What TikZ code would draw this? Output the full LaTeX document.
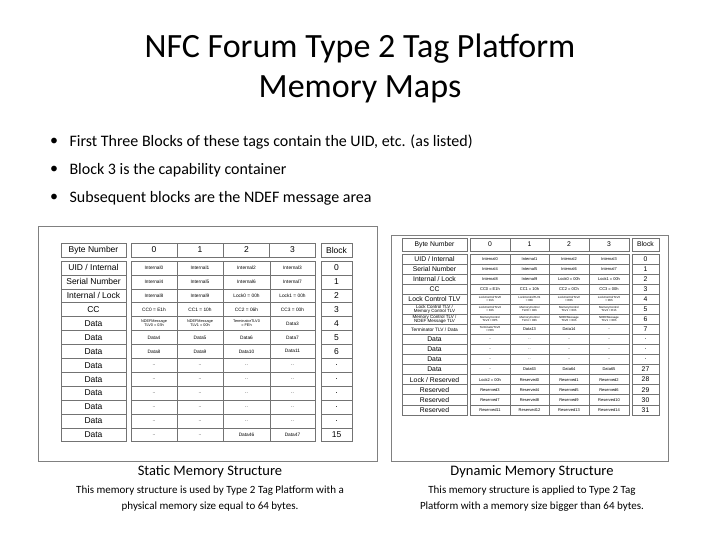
\documentclass[tikz,border=0pt]{standalone}
\usepackage{fontspec}
\setmainfont{Carlito}
\newfontfamily\arialf{Liberation Sans}
\newcommand\twol[3]{{\fontsize{#1}{#1}\selectfont\renewcommand\arraystretch{0.85}\begin{tabular}{@{}c@{}}#2\\#3\end{tabular}}}
\begin{document}
\begin{tikzpicture}[x=1pt,y=-1pt,
  cellbox/.style={draw=black!55,line width=0.5pt,rectangle,inner sep=0pt,align=center,font=\arialf},
  frameb/.style={draw=black!50,line width=0.6pt}]
\useasboundingbox (0,0) rectangle (720,540);
\node[font=\fontsize{34}{40}\selectfont,align=center] (title) at (360,68) {NFC Forum Type 2 Tag Platform\\Memory Maps};
\foreach \t/\yy [count=\k] in {{First Three Blocks of these tags contain the UID, etc. (as listed)}/142,{Block 3 is the capability container}/170,{Subsequent blocks are the NDEF message area}/198}{
  \node[anchor=west,font=\fontsize{16}{18}\selectfont] (b\k) at (66,\yy) {\t};
  \node[font=\fontsize{16}{18}\selectfont] (d\k) at (54,\yy) {\textbullet};
}
\draw[frameb] (38,226) rectangle (377,461);
\draw[frameb] (391,235) rectangle (668,461);
\begin{scope}[every node/.style={cellbox,minimum height=14pt,font=\arialf\fontsize{8.5}{9}\selectfont}]
\node[minimum width=65pt] (lh) at (93.5,250) {Byte Number};
\foreach \v/\cx [count=\k] in {0/154,1/200,2/246.5,3/292.5}{\node[minimum width=46pt] (lh\k) at (\cx,250) {\v};}
\node[minimum width=31pt] (lhb) at (336.5,250) {Block};
\end{scope}
\foreach \lab/\a/\b/\c/\d/\blk [count=\i] in {
 {UID / Internal}/Internal0/Internal1/Internal2/Internal3/0,
 {Serial Number}/Internal4/Internal5/Internal6/Internal7/1,
 {Internal / Lock}/Internal8/Internal9/{Lock0 = 00h}/{Lock1 = 00h}/2,
 CC/{CC0 = E1h}/{CC1 = 10h}/{CC2 = 06h}/{CC3 = 00h}/3,
 Data/{\twol{3.8}{NDEFMessage}{TLV0 = 03h}}/{\twol{3.8}{NDEFMessage}{TLV1 = 00h}}/{\twol{3.8}{TerminatorTLV0}{= FEh}}/Data3/4,
 Data/Data4/Data5/Data6/Data7/5,
 Data/Data8/Data9/Data10/Data11/6,
 Data/../../../../.,
 Data/../../../../.,
 Data/../../../../.,
 Data/../../../../.,
 Data/../../../../.,
 Data/../../Data46/Data47/15}{
 \pgfmathsetmacro\yy{261+(\i-0.5)*13.9}
 \node[cellbox,minimum width=65pt,minimum height=13.9pt,font=\arialf\fontsize{8.5}{9}\selectfont] (ll\i) at (93.5,\yy) {\lab};
 \node[cellbox,minimum width=46pt,minimum height=13.9pt,font=\arialf\fontsize{4.8}{5}\selectfont] (la\i) at (154,\yy) {\a};
 \node[cellbox,minimum width=46pt,minimum height=13.9pt,font=\arialf\fontsize{4.8}{5}\selectfont] (lb\i) at (200,\yy) {\b};
 \node[cellbox,minimum width=47pt,minimum height=13.9pt,font=\arialf\fontsize{4.8}{5}\selectfont] (lc\i) at (246.5,\yy) {\c};
 \node[cellbox,minimum width=45pt,minimum height=13.9pt,font=\arialf\fontsize{4.8}{5}\selectfont] (ld\i) at (292.5,\yy) {\d};
 \node[cellbox,minimum width=31pt,minimum height=13.9pt,font=\arialf\fontsize{8.5}{9}\selectfont] (lk\i) at (336.5,\yy) {\blk};
}
\begin{scope}[every node/.style={cellbox,minimum height=13pt,font=\arialf\fontsize{6.8}{7}\selectfont}]
\node[minimum width=65pt] (rh) at (434.5,244.5) {Byte Number};
\foreach \v/\cx [count=\k] in {0/490,1/529.5,2/569,3/609}{\node[minimum width=39.5pt] (rh\k) at (\cx,244.5) {\v};}
\node[minimum width=27pt] (rhb) at (645.5,244.5) {Block};
\end{scope}
\foreach \lab/\a/\b/\c/\d/\blk [count=\i] in {
 {UID / Internal}/Internal0/Internal1/Internal2/Internal3/0,
 {Serial Number}/Internal4/Internal5/Internal6/Internal7/1,
 {Internal / Lock}/Internal8/Internal9/{Lock0 = 00h}/{Lock1 = 00h}/2,
 CC/{CC0 = E1h}/{CC1 = 10h}/{CC2 = 0Ch}/{CC3 = 00h}/3,
 {Lock Control TLV}/{\twol{2.9}{LockControlTLV0}{= 01h}}/{\twol{2.9}{LockControlTLV1}{= 03h}}/{\twol{2.9}{LockControlTLV2}{= E0h}}/{\twol{2.9}{LockControlTLV3}{= 06h}}/4,
 {\twol{4.5}{Lock Control TLV /}{Memory Control TLV}}/{\twol{2.9}{LockControlTLV4}{= 33h}}/{\twol{2.9}{MemoryControl}{TLV0 = 02h}}/{\twol{2.9}{MemoryControl}{TLV1 = 03h}}/{\twol{2.9}{MemoryControl}{TLV2 = E1h}}/5,
 {\twol{4.5}{Memory Control TLV /}{NDEF Message TLV}}/{\twol{2.9}{MemoryControl}{TLV3 = 0Ph}}/{\twol{2.9}{MemoryControl}{TLV4 = 03h}}/{\twol{2.9}{NDEFMessage}{TLV0 = 03h}}/{\twol{2.9}{NDEFMessage}{TLV1 = 00h}}/6,
 {\fontsize{4.8}{5}\selectfont Terminator TLV / Data}/{\twol{2.9}{TerminatorTLV0}{= FEh}}/Data13/Data14/../7,
 Data/../../../../.,
 Data/../../../../.,
 Data/../../../../.,
 Data/../Data63/Data64/Data65/27,
 {Lock / Reserved}/{Lock2 = 00h}/Reserved0/Reserved1/Reserved2/28,
 Reserved/Reserved3/Reserved4/Reserved5/Reserved6/29,
 Reserved/Reserved7/Reserved8/Reserved9/Reserved10/30,
 Reserved/Reserved11/Reserved12/Reserved13/Reserved14/31}{
 \pgfmathsetmacro\yy{254+(\i-0.5)*10.05}
 \node[cellbox,minimum width=65pt,minimum height=10.05pt,font=\arialf\fontsize{6.8}{7}\selectfont] (rl\i) at (434.5,\yy) {\lab};
 \node[cellbox,minimum width=40pt,minimum height=10.05pt,font=\arialf\fontsize{4}{4.5}\selectfont] (ra\i) at (490,\yy) {\a};
 \node[cellbox,minimum width=39pt,minimum height=10.05pt,font=\arialf\fontsize{4}{4.5}\selectfont] (rb\i) at (529.5,\yy) {\b};
 \node[cellbox,minimum width=40pt,minimum height=10.05pt,font=\arialf\fontsize{4}{4.5}\selectfont] (rc\i) at (569,\yy) {\c};
 \node[cellbox,minimum width=40pt,minimum height=10.05pt,font=\arialf\fontsize{4}{4.5}\selectfont] (rd\i) at (609,\yy) {\d};
 \node[cellbox,minimum width=27pt,minimum height=10.05pt,font=\arialf\fontsize{6.8}{7}\selectfont] (rk\i) at (645.5,\yy) {\blk};
}
\node[font=\fontsize{14.5}{16}\selectfont] (c1) at (210,472) {Static Memory Structure};
\node[font=\fontsize{11}{16}\selectfont,align=center] (c1b) at (210,499) {This memory structure is used by Type 2 Tag Platform with a\\physical memory size equal to 64 bytes.};
\node[font=\fontsize{14.5}{16}\selectfont] (c2) at (532,472) {Dynamic Memory Structure};
\node[font=\fontsize{11}{16}\selectfont,align=center] (c2b) at (532,499) {This memory structure is applied to Type 2 Tag\\Platform with a memory size bigger than 64 bytes.};
\end{tikzpicture}
\end{document}
